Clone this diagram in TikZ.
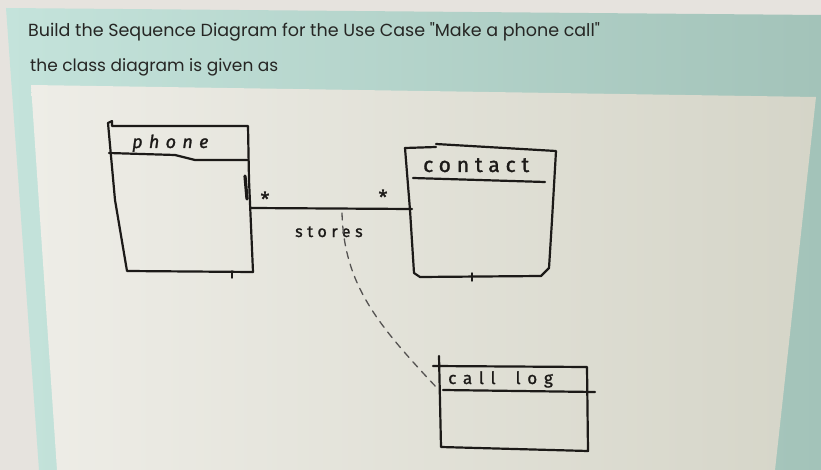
\documentclass[tikz,border=0pt]{standalone}
\usepackage{fontspec}
\newfontfamily\hdfont{Poppins}
\newfontfamily\hand[FakeBold=1.4]{Fira Sans}
\definecolor{outerc}{HTML}{E6E3DE}
\definecolor{tealtop}{HTML}{C4E3DB}
\definecolor{tealbot}{HTML}{A3C3B9}
\definecolor{papertl}{HTML}{EEEDE7}
\definecolor{paperbr}{HTML}{D5D5C8}
\definecolor{inkc}{HTML}{1C1A18}
\definecolor{txtc}{HTML}{262624}
\begin{document}
\begin{tikzpicture}[x=1pt,y=-1pt,
  ink/.style={draw=inkc, line width=2.2pt, line cap=round, line join=round},
  thinink/.style={draw=inkc, line width=1.4pt, line cap=round, line join=round},
  dashink/.style={draw=inkc!75, line width=1.3pt, dash pattern=on 7pt off 6pt, line cap=round},
  headtxt/.style={anchor=base west, inner sep=0pt, text=txtc},
  handtxt/.style={anchor=base west, inner sep=0pt, text=inkc},
  multtxt/.style={anchor=center, inner sep=0pt, text=inkc, font=\hand\fontsize{20}{22}\selectfont}]
\useasboundingbox (0,0) rectangle (821,470);
% background
\fill[outerc] (0,0) rectangle (821,470);
\shade[left color=tealtop, right color=tealbot] (6,8) -- (821,15) -- (821,470) -- (39,470) -- cycle;
\shade[left color=papertl, right color=paperbr] (31,85) -- (816,97) -- (775,470) -- (57,470) -- cycle;
% header text
\node[headtxt, font=\hdfont\fontsize{17.5}{20}\selectfont] (title) at (28,37) {Build the Sequence Diagram for the Use Case "Make a phone call"};
\node[headtxt, font=\hdfont\fontsize{17}{20}\selectfont] (sub) at (30,72) {the class diagram is given as};
% ---- phone class ----
\coordinate (phTL) at (108,123);
\coordinate (phTR) at (248,126);
\coordinate (phBR) at (253,272);
\coordinate (phBL) at (127,271);
\coordinate (phR) at (251,208);
\draw[ink] (phTL) -- (112,121) -- (112,126) -- (phTR) -- (249,180) -- (phBR);
\draw[ink] (phTL) -- (115,200) -- (phBL) -- (phBR);
\draw[ink] (109,153) -- (175,155) -- (195,160) -- (248,160);
\draw[ink, line width=3.2pt] (245,176) -- (247,199);
\draw[thinink] (232,271) -- (232,278);
\node[handtxt, font=\hand\itshape\fontsize{18}{20}\selectfont\addfontfeatures{LetterSpace=35}] (phone) at (132,148) {phone};
% ---- contact class ----
\coordinate (ctTL) at (405,148);
\coordinate (ctTR) at (556,151);
\coordinate (ctBR) at (541,276);
\coordinate (ctBL) at (414,273);
\coordinate (ctL) at (412,209);
\draw[ink] (ctTL) -- (436,147);
\draw[ink] (436,144) -- (ctTR) -- (552,220) -- (549,268) -- (ctBR) -- (420,277) -- (ctBL) -- (410,210) -- (ctTL);
\draw[ink] (413,178) -- (545,182);
\draw[thinink] (472,273) -- (472,281);
\node[handtxt, font=\hand\fontsize{21}{24}\selectfont\addfontfeatures{LetterSpace=28}] (contact) at (423,172) {contact};
% ---- association ----
\draw[ink] (phR) -- (ctL);
\node[multtxt] (m1) at (265,199) {*};
\node[multtxt] (m2) at (383,197) {*};
\node[handtxt, font=\hand\fontsize{16}{18}\selectfont\addfontfeatures{LetterSpace=29}] (stores) at (295,237) {stores};
\coordinate (asMid) at (342,213);
% ---- call log class ----
\coordinate (clTL) at (439,366);
\coordinate (clTR) at (587,367);
\coordinate (clBR) at (588,451);
\coordinate (clBL) at (441,447);
\coordinate (clL) at (437,388);
\draw[ink] (433,366) -- (clTR) -- (clBR) -- (clBL) -- (439,356);
\draw[ink] (443,390) -- (595,392);
\node[handtxt, font=\hand\fontsize{17}{20}\selectfont\addfontfeatures{LetterSpace=40}] (calllog) at (448,384) {call\hspace{20pt}log};
% ---- dashed link ----
\draw[dashink] (asMid) .. controls (344,285) and (378,325) .. (clL);
\end{tikzpicture}
\end{document}
